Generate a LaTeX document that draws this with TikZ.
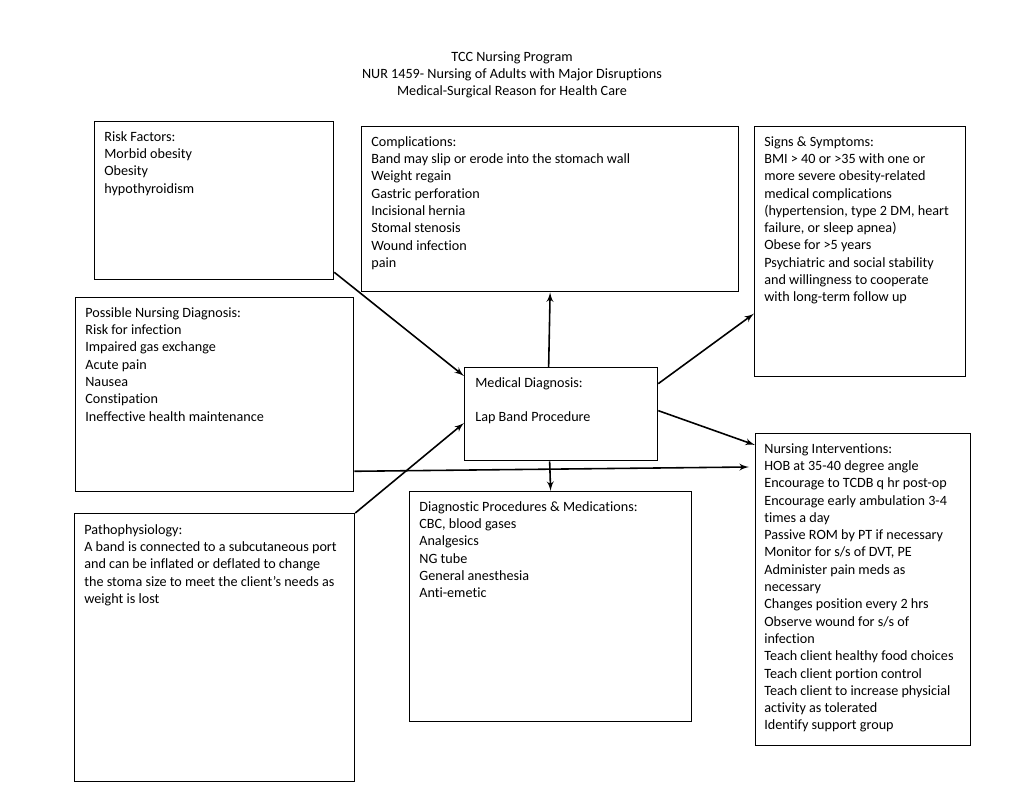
\documentclass[tikz,border=0pt]{standalone}
\usepackage{fontspec}
\setmainfont{Carlito}[Ligatures=NoCommon]
\usetikzlibrary{positioning,arrows,calc}
\tikzset{
    x=0.02cm,
    y=-0.02cm,
    block/.style = {
        draw,
        shape=rectangle,
        anchor=north west,
        inner sep=0pt,
        line width=0.75pt
    },
    body/.style = {
        anchor=north west,
        inner sep=0pt,
        align=left,
        font=\fontsize{8.06}{9.85}\selectfont
    },
    link/.style = {
        draw,
        ->,
        line width=0.9pt
    },
    >=latex',
}
\begin{document}
\begin{tikzpicture}
                \useasboundingbox[fill=white] (0,0) rectangle (1024,791);

                \node[body, anchor=north, align=center] (title) at (512,51) {TCC Nursing Program\\NUR 1459- Nursing of Adults with Major Disruptions\\Medical-Surgical Reason for Health Care};

                \node[block, minimum width=4.78cm, minimum height=3.16cm] (risk) at (94,121) {};
                \node[block, minimum width=7.54cm, minimum height=3.30cm] (comp) at (361,126) {};
                \node[block, minimum width=4.22cm, minimum height=5.00cm] (signs) at (754,126) {};
                \node[block, minimum width=5.56cm, minimum height=3.88cm] (nursdx) at (75,297) {};
                \node[block, minimum width=3.86cm, minimum height=1.86cm] (meddx) at (464,367) {};
                \node[block, minimum width=5.60cm, minimum height=5.36cm] (patho) at (74,513) {};
                \node[block, minimum width=5.64cm, minimum height=4.60cm] (diag) at (409,491) {};
                \node[block, minimum width=4.30cm, minimum height=6.24cm] (interv) at (755,433) {};

                \node[body] (risktxt) at ([shift={(0.2cm,-0.2cm)}]risk.north west) {Risk Factors:\\Morbid obesity\\Obesity\\hypothyroidism};
                \node[body] (comptxt) at ([shift={(0.2cm,-0.2cm)}]comp.north west) {Complications:\\Band may slip or erode into the stomach wall\\Weight regain\\Gastric perforation\\Incisional hernia\\Stomal stenosis\\Wound infection\\pain};
                \node[body] (signstxt) at ([shift={(0.2cm,-0.2cm)}]signs.north west) {Signs \& Symptoms:\\BMI > 40 or >35 with one or\\more severe obesity-related\\medical complications\\(hypertension, type 2 DM, heart\\failure, or sleep apnea)\\Obese for >5 years\\Psychiatric and social stability\\and willingness to cooperate\\with long-term follow up};
                \node[body] (nursdxtxt) at ([shift={(0.2cm,-0.2cm)}]nursdx.north west) {Possible Nursing Diagnosis:\\Risk for infection\\Impaired gas exchange\\Acute pain\\Nausea\\Constipation\\Ineffective health maintenance};
                \node[body] (meddxtxt) at ([shift={(0.22cm,-0.2cm)}]meddx.north west) {Medical Diagnosis:\\[9.85pt]Lap Band Procedure};
                \node[body] (pathotxt) at ([shift={(0.2cm,-0.22cm)}]patho.north west) {Pathophysiology:\\A band is connected to a subcutaneous port\\and can be inflated or deflated to change\\the stoma size to meet the client’s needs as\\weight is lost};
                \node[body] (diagtxt) at ([shift={(0.2cm,-0.2cm)}]diag.north west) {Diagnostic Procedures \& Medications:\\CBC, blood gases\\Analgesics\\NG tube\\General anesthesia\\Anti-emetic};
                \node[body] (intervtxt) at ([shift={(0.18cm,-0.2cm)}]interv.north west) {Nursing Interventions:\\HOB at 35-40 degree angle\\Encourage to TCDB q hr post-op\\Encourage early ambulation 3-4\\times a day\\Passive ROM by PT if necessary\\Monitor for s/s of DVT, PE\\Administer pain meds as\\necessary\\Changes position every 2 hrs\\Observe wound for s/s of\\infection\\Teach client healthy food choices\\Teach client portion control\\Teach client to increase physicial\\activity as tolerated\\Identify support group};

                \path[link] ([yshift=0.16cm]risk.south east) -- ([yshift=-0.18cm]meddx.north west);
                \path[link] ([xshift=-0.25cm]meddx.north) -- (comp.south);
                \path[link] ([yshift=0.61cm]meddx.east) -- ([yshift=-1.24cm]signs.west);
                \path[link] ([yshift=0.07cm]meddx.east) -- ([yshift=-0.24cm]interv.north west);
                \path[link] ([yshift=0.42cm]nursdx.south east) -- ([shift={(-0.12cm,-0.68cm)}]interv.north west);
                \path[link] (patho.north east) -- ([yshift=-1.12cm]meddx.north west);
                \path[link] ([xshift=-0.23cm]meddx.south) -- (diag.north);
\end{tikzpicture}
\end{document}
